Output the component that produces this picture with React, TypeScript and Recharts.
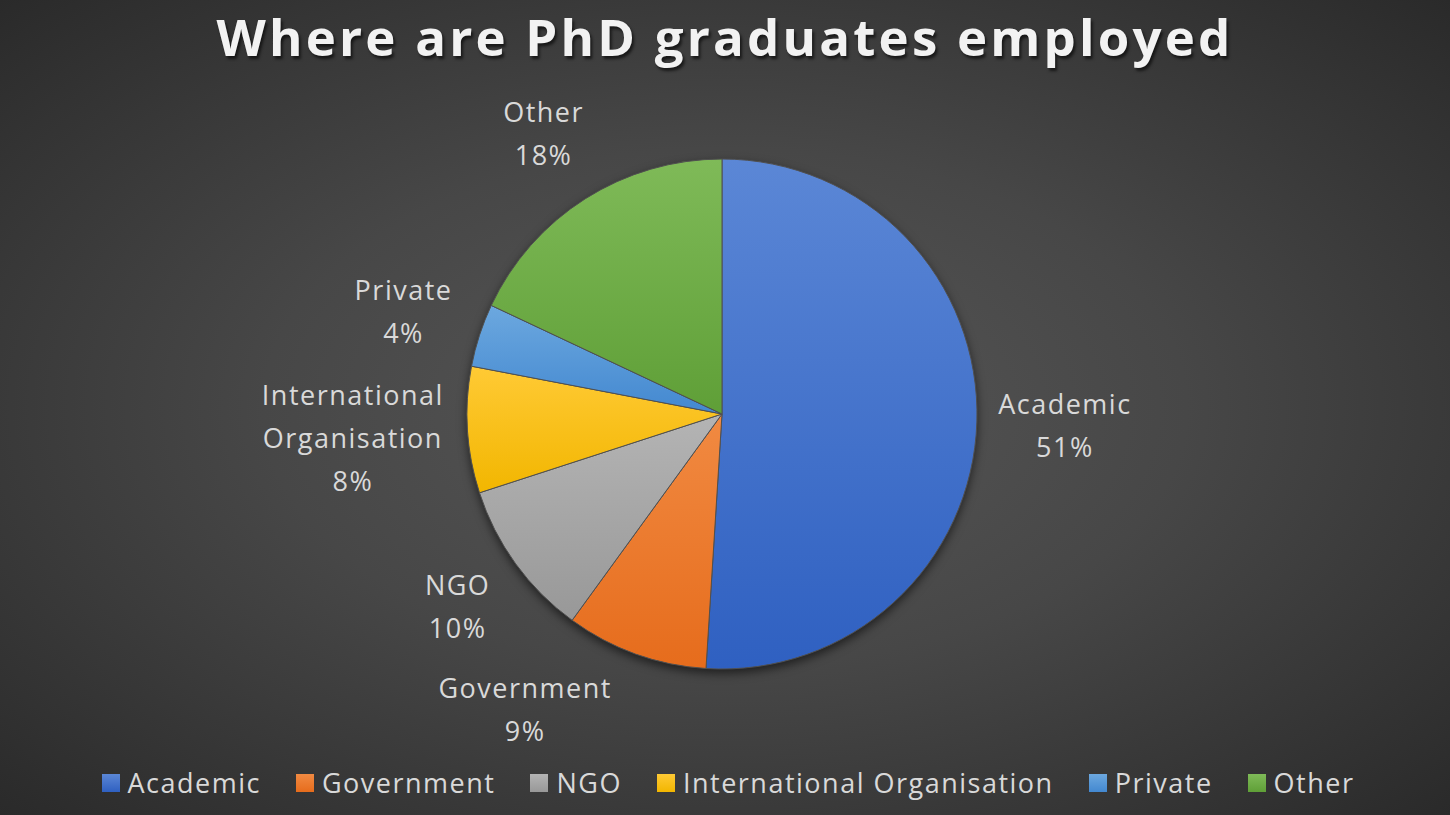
import React from "react";
import { Cell, Legend, Pie, PieChart } from "recharts";

const categories = ["Academic", "Government", "NGO", "International Organisation", "Private", "Other"];
const shares = [51, 9, 10, 8, 4, 18];

// top / bottom shade of each slice
const palette = [
  ["#5b87d6", "#2f60c1"],
  ["#f18a42", "#e66c1c"],
  ["#b4b4b4", "#989898"],
  ["#ffca35", "#f2b600"],
  ["#6ca8df", "#4388d0"],
  ["#7fba58", "#5f9f37"],
];

const W = 1450;
const H = 815;
const RAD = Math.PI / 180;
const LABEL_FONT = 27;
const LETTER = 1.5;
const LINE_H = 43;
const LABEL_GAP = 20;
const LABEL_MAX_BOTTOM = 752; // keep labels clear of the legend
const FONT = "'Open Sans', 'Noto Sans', sans-serif";

const data = categories.map((name, i) => ({ name, value: shares[i] }));

let measureCtx: CanvasRenderingContext2D | null = null;
function textWidth(text: string): number {
  if (!measureCtx) {
    measureCtx = document.createElement("canvas").getContext("2d");
  }
  if (!measureCtx) return text.length * LABEL_FONT * 0.55;
  measureCtx.font = `${LABEL_FONT}px ${FONT}`;
  return measureCtx.measureText(text).width + text.length * LETTER;
}

function wrapName(name: string): string[] {
  if (name.length <= 14) return [name];
  return name.split(" ");
}

function renderLabel(props: any) {
  const { cx, cy, midAngle, outerRadius, name, value } = props;
  const ux = Math.cos(-midAngle * RAD);
  const uy = Math.sin(-midAngle * RAD);
  const lines = [...wrapName(name), `${value}%`];
  const halfW = Math.max(...lines.map(textWidth)) / 2;
  const halfH = (lines.length * LINE_H) / 2;
  const dist = outerRadius + LABEL_GAP + Math.abs(ux) * halfW + Math.abs(uy) * halfH;
  let x = cx + dist * ux;
  let y = cy + dist * uy;
  if (y + halfH > LABEL_MAX_BOTTOM) {
    // best fit: lift the label and slide it sideways round the pie
    y = LABEL_MAX_BOTTOM - halfH;
    const dy = y - halfH - cy;
    const reach = outerRadius + LABEL_GAP;
    const dx = Math.sqrt(Math.max(0, reach * reach - dy * dy));
    x = cx + Math.sign(ux || 1) * (dx + halfW);
  }
  return (
    <text
      x={x}
      y={y}
      textAnchor="middle"
      fill="#d9d9d9"
      fontFamily={FONT}
      fontSize={LABEL_FONT}
      letterSpacing={LETTER}
    >
      {lines.map((line, i) => (
        <tspan key={i} x={x} y={y - halfH + LINE_H * (i + 0.5)} dominantBaseline="central">
          {line}
        </tspan>
      ))}
    </text>
  );
}

function LegendContent() {
  return (
    <div
      style={{
        display: "flex",
        justifyContent: "center",
        alignItems: "center",
        gap: 35,
        paddingLeft: 6,
        fontFamily: FONT,
        fontSize: LABEL_FONT,
        letterSpacing: LETTER,
        color: "#d9d9d9",
      }}
    >
      {categories.map((name, i) => (
        <div key={name} style={{ display: "flex", alignItems: "center" }}>
          <span
            style={{
              width: 18,
              height: 18,
              marginRight: 8,
              background: `linear-gradient(${palette[i][0]}, ${palette[i][1]})`,
              display: "inline-block",
            }}
          />
          <span>{name}</span>
        </div>
      ))}
    </div>
  );
}

export default function App() {
  return (
    <div
      style={{
        position: "absolute",
        left: 0,
        top: 0,
        width: W,
        height: H,
        overflow: "hidden",
        background: "radial-gradient(ellipse at 50% 50%, #575757 0%, #474747 45%, #2a2a2a 100%)",
      }}
    >
      <style>{`.recharts-pie { filter: drop-shadow(0px 4px 5px rgba(0,0,0,0.55)); }`}</style>
      <div
        style={{
          position: "absolute",
          top: 1,
          width: W,
          textAlign: "center",
          fontFamily: FONT,
          fontWeight: 700,
          fontSize: 51,
          letterSpacing: 3.2,
          color: "#f2f2f2",
          textShadow: "2px 3px 3px rgba(0,0,0,0.6)",
        }}
      >
        Where are PhD graduates employed
      </div>
      <PieChart width={W} height={H} margin={{ top: 0, right: 0, bottom: 0, left: 0 }}>
        <defs>
          {palette.map(([top, bottom], i) => (
            <linearGradient key={i} id={`slice-${i}`} x1="0" y1="0" x2="0" y2="1">
              <stop offset="0%" stopColor={top} />
              <stop offset="100%" stopColor={bottom} />
            </linearGradient>
          ))}
        </defs>
        <Pie
          data={data}
          dataKey="value"
          nameKey="name"
          cx={722}
          cy={414}
          outerRadius={255}
          startAngle={90}
          endAngle={-270}
          stroke="#505050"
          strokeWidth={1}
          label={renderLabel}
          labelLine={false}
          isAnimationActive={false}
        >
          {data.map((d, i) => (
            <Cell key={d.name} fill={`url(#slice-${i})`} />
          ))}
        </Pie>
        <Legend content={<LegendContent />} wrapperStyle={{ top: 764, left: 0, width: W }} />
      </PieChart>
    </div>
  );
}
